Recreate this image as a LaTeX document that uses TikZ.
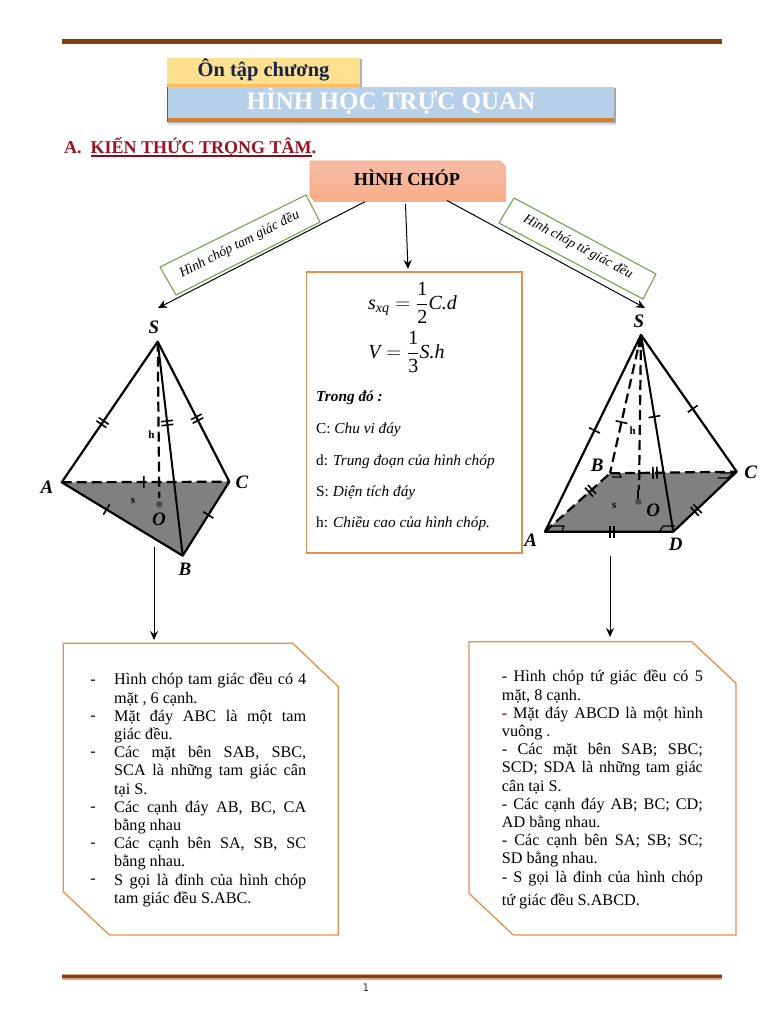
\documentclass[tikz,border=0pt]{standalone}
\usepackage{fontspec}
\usepackage{amsmath}
\setmainfont{Liberation Serif}
\newfontfamily\pagefont{DejaVu Sans}
\usetikzlibrary{arrows.meta,calc}
\definecolor{rulebrown}{HTML}{7F3F12}
\definecolor{rulelight}{HTML}{DDA98C}
\definecolor{orangeline}{HTML}{E88F4C}
\definecolor{greenline}{HTML}{70A848}
\definecolor{bluefill}{HTML}{B7D1EA}
\definecolor{yellowfill}{HTML}{FEE08F}
\definecolor{navytext}{HTML}{14234F}
\definecolor{headred}{HTML}{A01020}
\definecolor{chopfill}{HTML}{F6B196}
\definecolor{basegray}{HTML}{808080}
\tikzset{
  arr/.style={-{Stealth[length=9pt,width=8pt]},line width=1pt},
  edge/.style={line width=2.2pt,line cap=round,line join=round},
  hid/.style={line width=2.2pt,dash pattern=on 10pt off 5pt},
  tick/.style={line width=1.6pt},
  orangebox/.style={draw=orangeline,line width=1.3pt,fill=white},
  lab/.style={font=\fontsize{19}{19}\selectfont\bfseries\itshape,inner sep=0pt},
  small/.style={font=\fontsize{11}{11}\selectfont\bfseries,inner sep=0pt},
  line/.style={anchor=west,inner sep=0pt,font=\fontsize{15.3}{15.3}\selectfont},
  body/.style={anchor=north west,inner sep=0pt,align=left,font=\fontsize{16.2}{18.2}\selectfont},
  greenbox/.style={draw=greenline,line width=1.1pt,fill=white},
}
\newcommand{\onetick}[3]{\draw[tick] ($(#1)!#3!(#2)+($(#1)!6pt!90:(#2)-(#1)$)$) -- ($(#1)!#3!(#2)-($(#1)!6pt!90:(#2)-(#1)$)$);}
\newcommand{\twotick}[3]{%
  \draw[tick] ($(#1)!#3!(#2)+($(#1)!2pt!(#2)-(#1)$)+($(#1)!6pt!90:(#2)-(#1)$)$) -- ($(#1)!#3!(#2)+($(#1)!2pt!(#2)-(#1)$)-($(#1)!6pt!90:(#2)-(#1)$)$);
  \draw[tick] ($(#1)!#3!(#2)-($(#1)!2pt!(#2)-(#1)$)+($(#1)!6pt!90:(#2)-(#1)$)$) -- ($(#1)!#3!(#2)-($(#1)!2pt!(#2)-(#1)$)-($(#1)!6pt!90:(#2)-(#1)$)$);}
\newcommand{\jla}[1]{\makebox[192pt][s]{#1}}
\newcommand{\jlb}[1]{\makebox[201pt][s]{#1}}
\begin{document}
\begin{tikzpicture}[x=1pt,y=-1pt]
\useasboundingbox (0,0) rectangle (768,1024);
\fill[white] (0,0) rectangle (768,1024);
% rules
\fill[rulebrown] (62,39.5) rectangle (722,44);
\fill[rulelight] (62,973.5) rectangle (722,979.5);
\fill[rulebrown] (62,974.5) rectangle (722,977.5);
\node[inner sep=0pt,font=\fontsize{10.5}{10.5}\selectfont\pagefont,text=black!80] (pg) at (366,988) {1};
% header
\fill[gray!60] (360,59) rectangle (361.5,87);
\fill[yellowfill] (167,58) rectangle (360,85);
\fill[orange!35!yellowfill] (167,84.5) rectangle (360,87.5);
\node[inner sep=0pt,font=\fontsize{20.5}{20.5}\selectfont\bfseries,text=navytext] (on) at (263.5,70) {Ôn tập chương};
\fill[gray!25] (168,122) rectangle (615.5,125.5);
\fill[gray!60] (168,122) rectangle (615.5,123.5);
\fill[gray!70] (613,88) rectangle (615.5,123);
\fill[bluefill] (167,87.5) rectangle (613.5,118.5);
\fill[brown!70!orange] (167,118.5) rectangle (613.5,121.8);
\fill[black!55!bluefill] (166.5,87.5) rectangle (167.5,121.8);
\node[inner sep=0pt,font=\fontsize{25}{25}\selectfont\bfseries,text=white] (hh) at (391,101) {HÌNH HỌC TRỰC QUAN};
\node[anchor=west,inner sep=0pt,font=\fontsize{18}{18}\selectfont\bfseries,text=headred] (secA) at (64,147.5) {A.\hspace{9pt}KIẾN THỨC TRỌNG TÂM.};
\draw[headred!85!black,line width=1.7pt] (91,156) -- (311.5,156);
% chop box
\shade[top color=chopfill!85!white,bottom color=chopfill!90!orange,draw=chopfill!80!orange,line width=0.6pt]
  (310,161) -- (500,161) -- (505.7,167) -- (505.7,201.7) -- (315,201.7) -- (310,196) -- cycle;
\node[inner sep=0pt,font=\fontsize{18.3}{18.3}\selectfont\bfseries] (chop) at (407,178) {HÌNH CHÓP};
% connector ends
\coordinate (cl) at (365,201.7);
\coordinate (cm) at (405.5,204);
\coordinate (cr) at (447,200.5);
\coordinate (el) at (158,308);
\coordinate (em) at (408,269);
\coordinate (er) at (645,308);
\draw[arr] (cl) -- (el);
\draw[arr] (cm) -- (em);
\draw[arr] (cr) -- (er);
% green labels
\draw[greenbox] (306,195) -- (320,222) -- (176,295) -- (160,267) -- cycle;
\node[rotate=27,inner sep=0pt,font=\fontsize{13.8}{13.8}\selectfont\itshape] (gl) at (239.5,244.5) {Hình chóp tam giác đều};
\draw[greenbox] (514,198) -- (656,274) -- (643,299) -- (499,223) -- cycle;
\node[rotate=-28,inner sep=0pt,font=\fontsize{13.6}{13.6}\selectfont\itshape] (gr) at (578,247) {Hình chóp tứ giác đều};
% formula box
\draw[orangebox] (306.5,272) rectangle (522,553);
\node[inner sep=0pt] (f1) at (412.5,303) {\fontsize{20}{20}\selectfont $\textit{s}_{\textit{xq}}=\dfrac{\textup{1}}{\textup{2}}\textit{C.d}$};
\node[inner sep=0pt] (f2) at (406.5,352) {\fontsize{20}{20}\selectfont $\textit{V}=\dfrac{\textup{1}}{\textup{3}}\textit{S.h}$};
\node[line,font=\fontsize{15.3}{15.3}\selectfont\bfseries\itshape] (t0) at (316,398) {Trong đó :};
\node[line] (t1) at (316,430) {C: \textit{Chu vi đáy}};
\node[line] (t2) at (316,462) {d: \textit{Trung đoạn của hình chóp}};
\node[line] (t3) at (316,493) {S: \textit{Diện tích đáy}};
\node[line] (t4) at (316,524) {h: \textit{Chiều cao của hình chóp.}};
% left pyramid
\coordinate (S1) at (157.7,341.7);
\coordinate (A1) at (61.7,482.3);
\coordinate (C1) at (229.3,481.7);
\coordinate (B1) at (182.7,555.7);
\coordinate (O1) at (159.3,504.3);
\fill[basegray] (A1) -- (C1) -- (B1) -- cycle;
\draw[hid] (A1) -- (C1);
\draw[hid] (S1) -- (159.3,498);
\draw[edge] (C1) -- (S1) -- (A1) -- (B1) -- (C1);
\draw[line width=2pt] (S1) -- (B1);
\fill[black!70] (O1) circle (3.2pt);
\twotick{S1}{A1}{0.575}
\twotick{S1}{B1}{0.38}
\twotick{S1}{C1}{0.55}
\onetick{A1}{C1}{0.49}
\onetick{A1}{B1}{0.37}
\onetick{C1}{B1}{0.45}
\node[lab] (lS1) at (154,327) {S};
\node[lab] (lA1) at (47,487) {A};
\node[lab] (lC1) at (242,482) {C};
\node[lab] (lB1) at (185,569) {B};
\node[lab] (lO1) at (159,519) {O};
\node[small] (lh1) at (151.5,435) {h};
\node[small] (ls1) at (133,501) {s};
\draw[arr] (154,546.5) coordinate (d1) -- (154,640) coordinate (d1e);
% right pyramid
\coordinate (S2) at (641,335);
\coordinate (A2) at (545,531.7);
\coordinate (D2) at (673.3,531.7);
\coordinate (C2) at (736.7,471.7);
\coordinate (B2) at (610,473.3);
\coordinate (O2) at (638.3,501.7);
\fill[basegray] (A2) -- (D2) -- (C2) -- (B2) -- cycle;
\draw[hid] (B2) -- (C2);
\draw[hid] (A2) -- (B2);
\draw[hid] (S2) -- (B2);
\draw[hid] (S2) -- (639,490);
\draw[line width=1.8pt] (638.3,490) -- (O2);
\draw[edge] (C2) -- (S2) -- (A2) -- (D2) -- (C2);
\draw[line width=2pt] (S2) -- (D2);
\fill[black!70] (O2) circle (3.2pt);
\fill (S2) -- (637.5,347) -- (644,347) -- cycle;
\onetick{S2}{A2}{0.485}
\onetick{S2}{B2}{0.63}
\onetick{S2}{D2}{0.415}
\onetick{S2}{C2}{0.54}
\twotick{B2}{C2}{0.355}
\twotick{A2}{B2}{0.7}
\twotick{D2}{C2}{0.36}
\twotick{A2}{D2}{0.52}
% right-angle marks
\draw[line width=1.2pt] (549,526) -- (564,526) -- (562,531);
\draw[line width=1.2pt] (660,531) -- (663,526) -- (675,526);
\draw[line width=1.2pt] (612,477) -- (621,477) -- (619,473);
\draw[line width=1.2pt] (720,473) -- (733,473) -- (728,478) -- (718,478);
\node[lab] (lS2) at (639,321.7) {S};
\node[lab] (lA2) at (530.7,540.7) {A};
\node[lab] (lD2) at (675.7,544.3) {D};
\node[lab] (lC2) at (750.7,472.7) {C};
\node[lab] (lB2) at (597.3,465.7) {B};
\node[lab] (lO2) at (653.3,510.7) {O};
\node[small] (lh2) at (632.7,430.7) {h};
\node[small] (ls2) at (614.3,505.7) {s};
\draw[arr] (610,556) coordinate (d2) -- (610,637) coordinate (d2e);
% left text box
\draw[orangebox] (63.3,643.3) -- (292.7,643.3) -- (338.3,686.7) -- (338.3,935) -- (109.3,935) -- (63.3,891.7) -- cycle;
\node[body] (tl) at (114,673) {%
\jla{Hình chóp tam giác đều có 4}\\
mặt , 6 cạnh.\\
\jla{Mặt đáy ABC là một tam}\\
giác đều.\\
\jla{Các mặt bên SAB, SBC,}\\
\jla{SCA là những tam giác cân}\\
tại S.\\
\jla{Các cạnh đáy AB, BC, CA}\\
bằng nhau\\
\jla{Các cạnh bên SA, SB, SC}\\
bằng nhau.\\
\jla{S gọi là đỉnh của hình chóp}\\
tam giác đều S.ABC.};
\foreach \yy/\nm in {682/a,718/b,754/c,809/d,845/e,881/f}{\node[inner sep=0pt,font=\fontsize{16.2}{16.2}\selectfont] (dash\nm) at (93,\yy) {-};}
% right text box
\draw[orangebox] (469,641.7) -- (691.7,641.7) -- (736,683.3) -- (736,935) -- (513.3,935) -- (469,893.3) -- cycle;
\node[body] (tr) at (501.7,670) {%
\jlb{- Hình chóp tứ giác đều có 5}\\
mặt, 8 cạnh.\\
\jlb{{\color{headred}\textbf{-}} Mặt đáy ABCD là một hình}\\
vuông .\\
\jlb{- Các mặt bên SAB; SBC;}\\
\jlb{SCD; SDA là những tam giác}\\
cân tại S.\\
\jlb{- Các cạnh đáy AB; BC; CD;}\\
AD bằng nhau.\\
\jlb{- Các cạnh bên SA; SB; SC;}\\
SD bằng nhau.\\
\jlb{- S gọi là đỉnh của hình chóp}\\[5.5pt]
tứ giác đều S.ABCD.};
\end{tikzpicture}
\end{document}
